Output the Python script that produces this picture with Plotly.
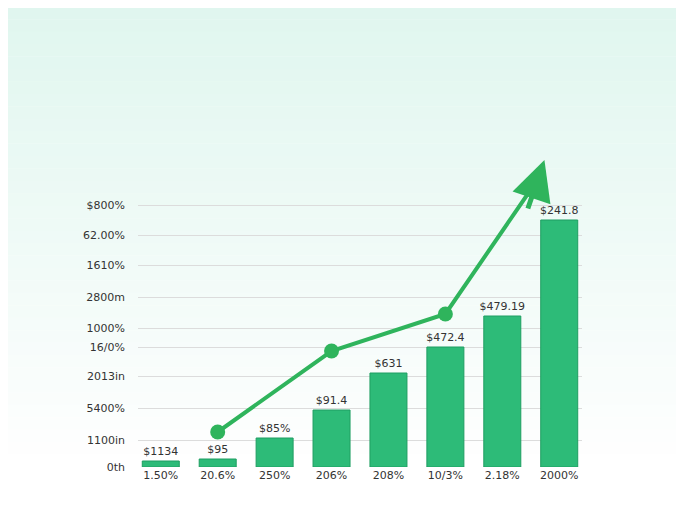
import plotly.graph_objects as go

categories = ["1.50%", "20.6%", "250%", "206%", "208%", "10/3%", "2.18%", "2000%"]
bar_values = [6, 8, 29, 57, 94, 120, 151, 247]
bar_labels = ["$1134", "$95", "$85%", "$91.4", "$631", "$472.4", "$479.19", "$241.8"]
line_x = [1, 3, 5]
line_y = [35, 116, 153]
arrow_tip = (6.74, 307)
ytick_vals = [262, 232, 202, 170, 139, 120, 91, 59, 27, 0]
ytick_text = ["$800%", "62.00%", "1610%", "2800m", "1000%", "16/0%", "2013in", "5400%", "1100in", "0th"]

xs = list(range(len(categories)))
fig = go.Figure()

top = (222, 246, 238)
for i in range(40):
    t = i / 39
    c = tuple(int(top[k] + (255 - top[k]) * t) for k in range(3))
    fig.add_shape(type="rect", xref="paper", yref="paper", x0=-1, x1=2,
                  y0=1.6 - i * 0.04, y1=1.6 - i * 0.04 - 0.041,
                  fillcolor=f"rgb{c}", line_width=0, layer="below")

fig.add_trace(go.Bar(x=xs, y=bar_values, width=0.65,
                     marker=dict(color="#2dbb78", line=dict(color="#1f9e62", width=1)),
                     text=bar_labels, textposition="outside", cliponaxis=False,
                     constraintext="none",
                     textfont=dict(family="DejaVu Sans", size=11, color="#333")))

fig.add_trace(go.Scatter(x=line_x + [arrow_tip[0] - 0.1], y=line_y + [arrow_tip[1] - 18],
                         mode="lines", line=dict(color="#2fb45c", width=4),
                         hoverinfo="skip"))
fig.add_trace(go.Scatter(x=line_x, y=line_y, mode="markers",
                         marker=dict(color="#2fb45c", size=15), hoverinfo="skip"))
fig.add_annotation(x=arrow_tip[0], y=arrow_tip[1], ax=arrow_tip[0] - 0.3, ay=arrow_tip[1] - 50,
                   xref="x", yref="y", axref="x", ayref="y", showarrow=True, text="",
                   arrowhead=2, arrowsize=1.6, arrowwidth=5, arrowcolor="#2fb45c")

fig.update_layout(
    width=684, height=513, showlegend=False,
    margin=dict(l=130, r=110, t=148, b=54),
    paper_bgcolor="rgba(0,0,0,0)", plot_bgcolor="rgba(0,0,0,0)",
    font=dict(family="DejaVu Sans", size=11, color="#333"),
    xaxis=dict(range=[-0.4, 7.4], tickvals=xs, ticktext=categories, showgrid=False,
               zeroline=False, showline=False, ticks="", fixedrange=True),
    yaxis=dict(range=[0, 311], tickvals=ytick_vals, ticktext=ytick_text, showgrid=True,
               gridcolor="#dcdcdc", gridwidth=1, zeroline=False, ticks="",
               ticklabelstandoff=12, automargin=False),
)
fig.write_html("out.html")
